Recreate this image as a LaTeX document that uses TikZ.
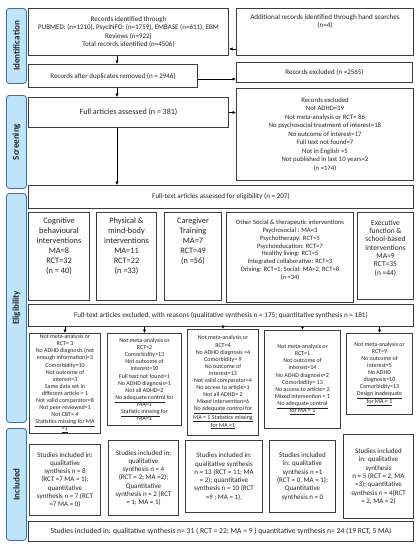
\documentclass[tikz,border=0pt]{standalone}
\usepackage{fontspec}
\setmainfont{Carlito}
\usetikzlibrary{arrows.meta,calc}
\definecolor{sidefill}{RGB}{190,228,250}
\definecolor{sidedraw}{RGB}{70,110,150}
\definecolor{boxline}{RGB}{60,60,60}
\definecolor{txt}{RGB}{35,35,35}
\begin{document}
\begin{tikzpicture}[x=1pt,y=-1pt,
  box/.style={draw=boxline, line width=1pt, rectangle, anchor=north west, inner sep=1pt, align=center, text=txt},
  tbox/.style={anchor=north, inner sep=0pt, align=center, text=txt},
  side/.style={draw=sidedraw, fill=sidefill, line width=0.8pt, rounded corners=3pt, anchor=north west, inner sep=0pt, minimum width=20pt},
  sidelab/.style={rotate=90, inner sep=0pt, font=\fontsize{9}{10}\selectfont\bfseries, text=black!85},
  arr/.style={-{Latex[length=3.5pt,width=3.5pt]}, line width=0.8pt, draw=black},
  fA/.style={font=\fontsize{7}{8.2}\selectfont},
  fB/.style={font=\fontsize{6.7}{8.5}\selectfont},
  fC/.style={font=\fontsize{8.3}{10}\selectfont},
  fD/.style={font=\fontsize{6.6}{7.8}\selectfont},
  fE/.style={font=\fontsize{7.5}{8.3}\selectfont},
  fR/.style={font=\fontsize{6}{7.1}\selectfont},
  fI/.style={font=\fontsize{7}{8.3}\selectfont}
]
\useasboundingbox (0,0) rectangle (419,550);

% side bars
\node[side, minimum height=75pt] (sI) at (6,8) {};
\node[sidelab] (sIl) at (sI.center) {Identification};
\node[side, minimum height=93pt] (sS) at (6,95) {};
\node[sidelab] (sSl) at (sS.center) {Screening};
\node[side, minimum height=229pt] (sE) at (6,193) {};
\node[sidelab] (sEl) at (sE.center) {Eligibility};
\node[side, minimum height=112pt] (sN) at (6,428) {};
\node[sidelab] (sNl) at (sN.center) {Included};

% identification
\node[box, fA, minimum width=200pt, minimum height=47pt] (rid) at (28,8) {Records identified through\\PUBMED: (n=1210), PsycINFO: (n=1759), EMBASE (n=611), EBM\\Reviews (n=922)\\Total records identified (n=4506)};
\node[box, minimum width=177pt, minimum height=47pt] (add) at (236,8) {};
\node[tbox, font=\fontsize{7.1}{8.5}\selectfont] (addt) at ($(add.north)+(0,6)$) {Additional records identified through hand searches\\(n=4)};
\node[box, font=\fontsize{7}{8.5}\selectfont, minimum width=169pt, minimum height=23pt] (dup) at (28,64) {Records after duplicates removed (n = 2946)};
\node[box, font=\fontsize{7}{8.5}\selectfont, minimum width=176pt, minimum height=20pt] (exc1) at (236,62) {Records excluded (n =2565)};

% screening
\node[box, font=\fontsize{8}{9}\selectfont, minimum width=200pt, minimum height=30pt] (full) at (28,97) {Full articles assessed (n = 381)};
\node[box, fB, minimum width=177pt, minimum height=92pt] (exc2) at (236,88) {Records excluded\\Not ADHD=39\\Not meta-analysis or RCT= 86\\No psychosocial treatment of interest=18\\No outcome of interest=17\\Full text not found=7\\Not in English =5\\Not published in last 10 years=2\\(n =174)};

% eligibility
\node[box, font=\fontsize{7.1}{8.5}\selectfont, minimum width=385pt, minimum height=23pt] (elig) at (28,185) {Full-text articles assessed for eligibility (n = 207)};
\node[box, minimum width=61pt, minimum height=88pt] (cat1) at (28,212) {};
\node[tbox, fC] (cat1t) at ($(cat1.north)+(0,6)$) {Cognitive\\behavioural\\interventions\\MA=8\\RCT=32\\(n = 40)};
\node[box, minimum width=60pt, minimum height=88pt] (cat2) at (96,212) {};
\node[tbox, fC] (cat2t) at ($(cat2.north)+(0,6)$) {Physical \&\\mind-body\\interventions\\MA=11\\RCT=22\\(n =33)};
\node[box, minimum width=57pt, minimum height=88pt] (cat3) at (164,212) {};
\node[tbox, fC] (cat3t) at ($(cat3.north)+(0,6)$) {Caregiver\\Training\\MA=7\\RCT=49\\(n =56)};
\node[box, minimum width=127pt, minimum height=90pt] (cat4) at (226,212) {};
\node[tbox, fD] (cat4t) at ($(cat4.north)+(0,8)$) {Other Social \& therapeutic interventions\\Psychosocial : MA=3\\Psychotherapy: RCT=5\\Psychoeducation: RCT=7\\Healthy living: RCT=5\\Integrated collaborative: RCT=3\\Driving: RCT=1; Social: MA=2, RCT=8\\(n =34)};
\node[box, minimum width=56pt, minimum height=87pt] (cat5) at (357,212) {};
\node[tbox, fE] (cat5t) at ($(cat5.north)+(0,8)$) {Executive\\function \&\\school-based\\interventions\\MA=9\\RCT=35\\(n =44)};

\node[box, font=\fontsize{7.2}{8.5}\selectfont, minimum width=385pt, minimum height=22pt] (excr) at (28,304) {Full-text articles excluded, with reasons (qualitative synthesis n = 175; quantitative synthesis n = 181)};

\node[box, fR, minimum width=71pt, minimum height=98pt] (r1) at (29,333) {Not meta-analysis or\\RCT= 3\\No ADHD diagnosis (not\\enough information)=3\\Comorbidity=10\\Not outcome of\\interest=3\\Same data set in\\different article = 1\\Not valid comparator=8\\Not peer reviewed=1\\Not CBT= 4\\\underline{Statistics missing for MA}\\\underline{=1}};
\node[box, fR, minimum width=74pt, minimum height=92pt] (r2) at (107,333) {Not meta-analysis or\\RCT=2\\Comorbidity=13\\Not outcome of\\interest=10\\Full text not found=1\\No ADHD diagnosis=1\\Not all ADHD=2\\\underline{No adequate control} for\\MA=1\\\underline{Statistic missing} for\\MA=1};
\node[box, fR, minimum width=71pt, minimum height=106pt] (r3) at (187,329) {Not meta-analysis or\\RCT=4\\No ADHD diagnosis =4\\Comorbidity= 9\\No outcome of\\interest=13\\Not valid comparator=4\\No access to article=1\\Not all ADHD= 2\\Mixed intervention=6\\\underline{No adequate control for}\\\underline{MA = 1 Statistics missing}\\\underline{for MA =1}};
\node[box, fR, minimum width=76pt, minimum height=98pt] (r4) at (264,330) {Not meta-analysis or\\RCT=1\\Not outcome of\\interest=14\\No ADHD diagnosis=2\\Comorbidity= 13\\No access to article= 2\\Mixed intervention = 1\\\underline{No adequate control}\\\underline{for MA = 1}};
\node[box, fR, minimum width=66pt, minimum height=81pt] (r5) at (346,333) {Not meta-analysis or\\RCT=9\\No outcome of\\interest=5\\No ADHD\\diagnosis=10\\Comorbidity=13\\\underline{Design inadequate}\\\underline{for MA = 1}};

% included
\node[box, fI, minimum width=71pt, minimum height=71pt] (i1) at (29,444) {Studies included in:\\qualitative\\synthesis n = 8\\(RCT =7 MA = 1);\\quantitative\\synthesis n = 7 (RCT\\=7 MA = 0)};
\node[box, fI, minimum width=70pt, minimum height=75pt] (i2) at (108,440) {Studies included in:\\qualitative\\synthesis n = 4\\(RCT = 2; MA =2);\\Quantitative\\synthesis n = 2 (RCT\\= 1; MA = 1)};
\node[box, fI, minimum width=77pt, minimum height=72pt] (i3) at (185,440) {Studies included in:\\qualitative synthesis\\n = 13 (RCT = 11; MA\\= 2); quantitative\\synthesis n = 10 (RCT\\=9 ; MA = 1),};
\node[box, fI, minimum width=66pt, minimum height=72pt] (i4) at (269,440) {Studies included\\in: qualitative\\synthesis n =1\\(RCT = 0, MA = 1);\\Quantitative\\synthesis n = 0};
\node[box, fI, minimum width=70pt, minimum height=84pt] (i5) at (343,434) {Studies included\\in: qualitative\\synthesis\\n = 5 (RCT = 2, MA\\=3); quantitative\\synthesis n = 4(RCT\\= 2, MA = 2)};
\node[box, font=\fontsize{7.6}{8.5}\selectfont, minimum width=385pt, minimum height=20pt] (fin) at (28,521) {Studies included in: qualitative synthesis n= 31 ( RCT = 22; MA = 9 ) quantitative synthesis n= 24 (19 RCT, 5 MA)};

% arrows
\coordinate (axis) at ($(rid.south west)+(89,0)$);
\draw[arr] (axis) -- (axis |- dup.north);
\draw[arr] (axis |- dup.south) -- (axis |- full.north);
\draw[arr] (axis |- full.south) -- (axis |- elig.north);
\coordinate (addp) at ($(add.south west)+(0,-7)$);
\draw[arr] (addp) -- (addp -| rid.east);
\coordinate (dupp) at ($(dup.east)+(0,3)$);
\draw[arr] (dupp) -- (dupp -| exc1.west);
\draw[arr] (full.east) -- (full.east -| exc2.west);
\foreach \r in {r1,r2,r3,r4,r5} {
  \draw[arr] (excr.south -| \r.north) -- (\r.north);
}
\end{tikzpicture}
\end{document}
